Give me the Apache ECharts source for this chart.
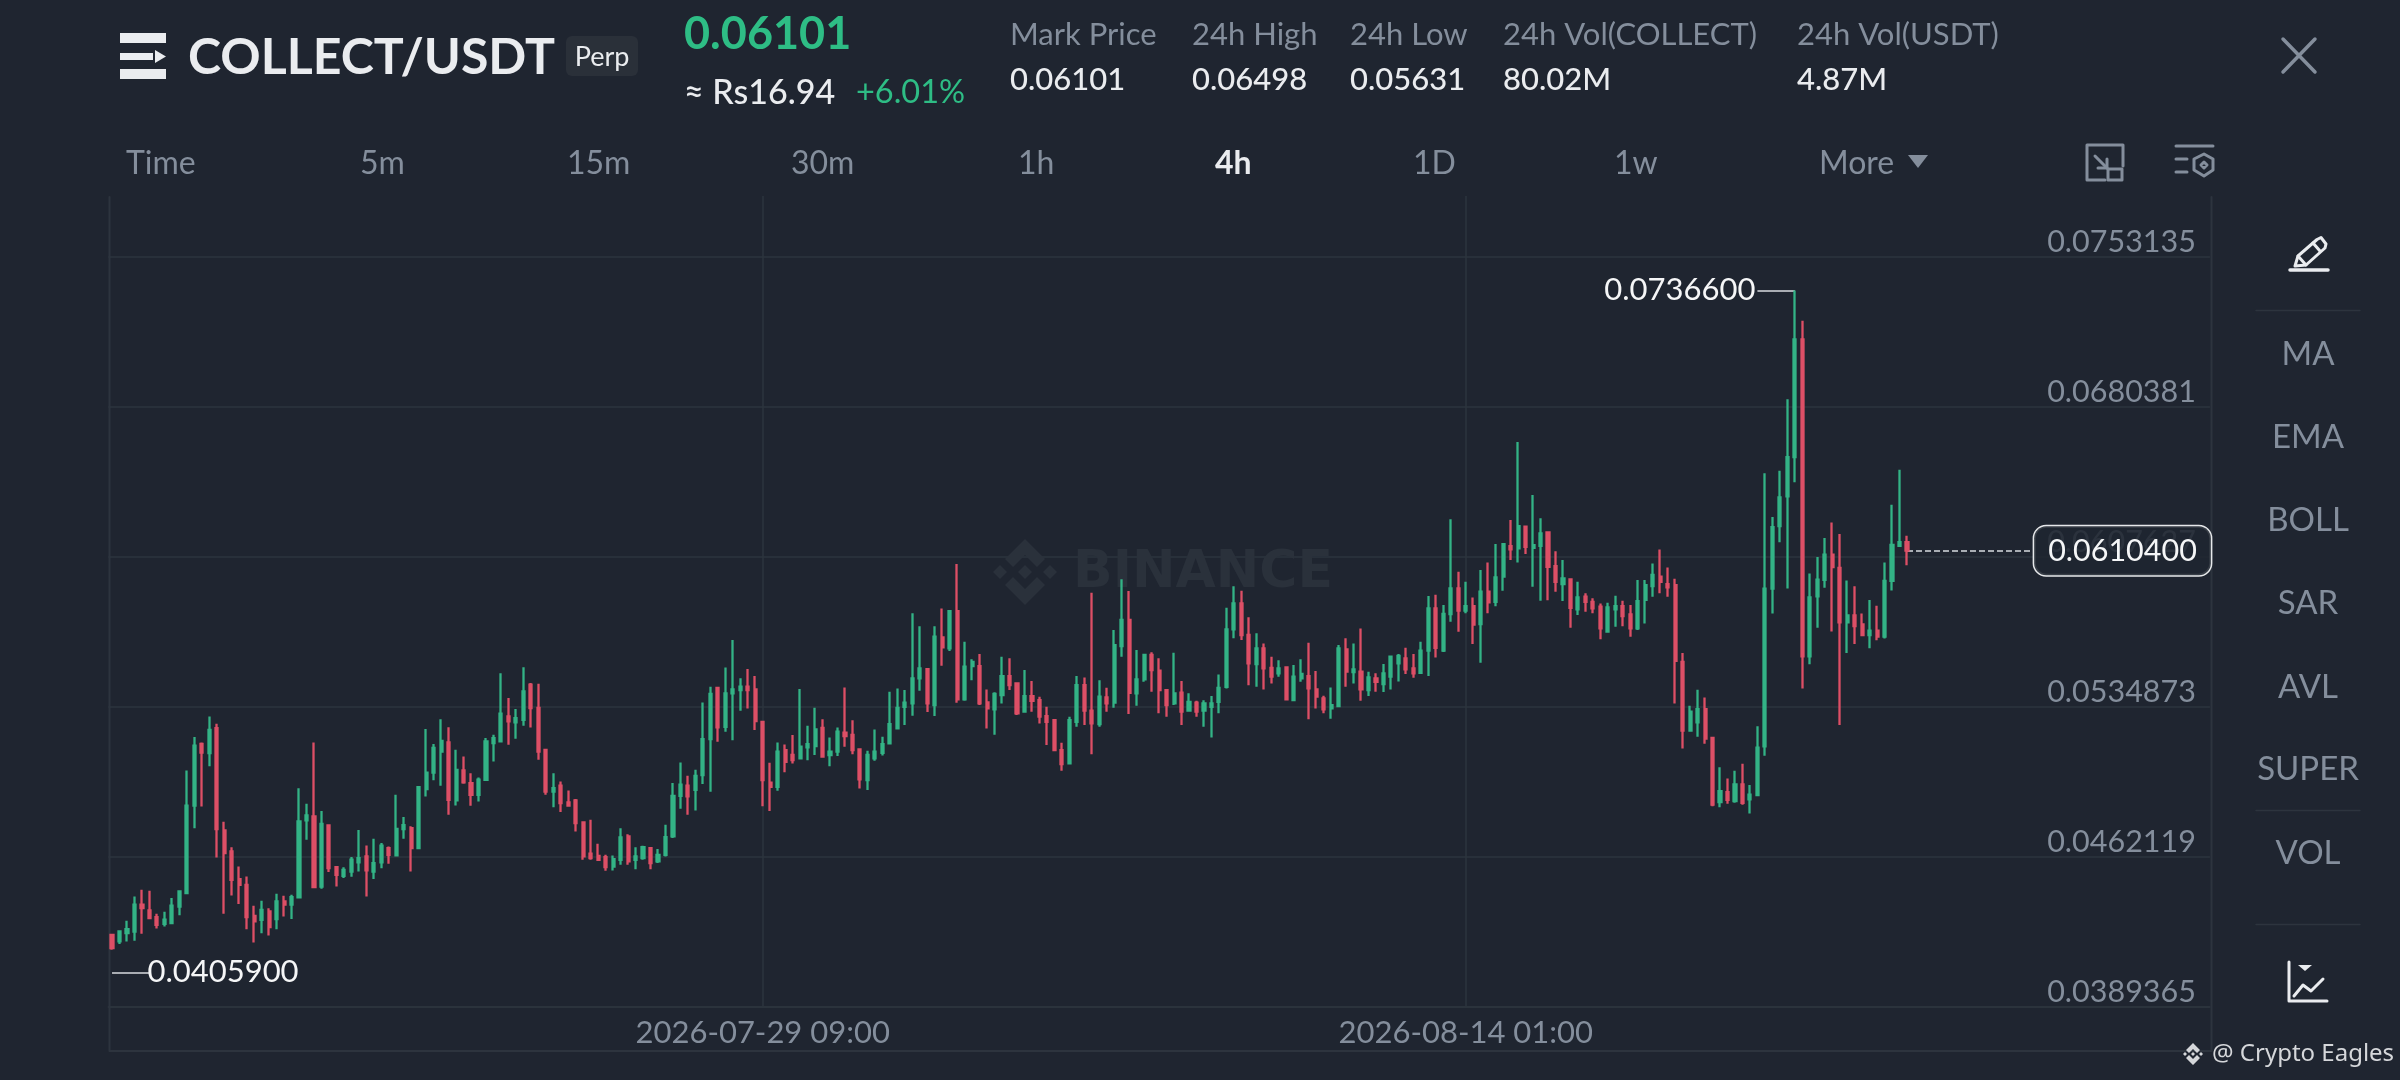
<!DOCTYPE html>
<html><head><meta charset="utf-8">
<style>html,body{margin:0;padding:0;background:#1f2530}#c{width:2400px;height:1080px}</style>
<script src="https://cdn.jsdelivr.net/npm/echarts@6/dist/echarts.min.js"></script>
</head><body><div id="c"></div>
<script>
// Prices below are in thousandths of a USDT (4h candles).
const opens=[42.41,42.09,42.49,42.57,43.87,43.59,43.27,42.94,42.98,43.78,
44.43,48.67,51.67,51.22,52.43,47.47,46.45,45.11,44.83,43.33,
43.14,43.54,43.17,44.03,43.87,44.22,47.96,48.15,44.75,47.71,
45.69,45.27,45.48,45.92,46.21,45.48,45.92,46.61,46.26,47.54,
47.58,46.61,49.48,50.28,51.30,51.74,48.93,50.38,49.77,49.20,
49.93,51.71,51.79,53.00,52.71,52.84,54.54,53.41,51.38,49.36,
49.64,48.83,48.93,47.86,46.34,46.24,46.18,45.72,46.05,47.18,
46.05,46.13,46.61,45.97,46.29,47.18,49.15,49.64,49.44,50.16,
51.90,54.39,52.50,54.12,54.28,54.44,54.31,52.74,49.79,49.59,
51.37,51.13,50.97,51.50,51.56,52.45,51.13,51.29,52.21,52.10,
51.40,49.91,50.97,51.24,51.69,52.42,53.47,53.63,54.85,55.30,
53.55,56.83,56.30,58.11,53.83,55.44,55.44,53.68,53.34,54.04,
54.96,54.60,53.23,53.99,53.79,53.02,52.82,51.37,50.72,52.74,
54.52,53.28,52.63,53.92,53.67,56.41,57.68,54.12,54.80,55.98,
55.22,54.28,53.63,54.15,53.28,53.67,53.28,53.47,53.71,54.44,
57.22,58.48,56.95,55.54,56.30,55.36,55.09,55.38,53.79,54.85,
54.96,54.31,53.87,53.39,53.50,56.25,55.15,55.17,54.28,54.85,
54.57,54.93,55.57,55.82,55.33,55.12,56.19,58.24,56.19,57.97,
59.21,58.13,58.35,57.48,59.05,58.56,59.78,61.26,61.15,62.20,
61.18,61.27,61.93,60.29,59.42,59.65,58.19,58.81,58.56,58.32,
57.11,58.19,58.35,57.95,57.27,58.65,59.32,59.78,59.42,59.37,
55.65,52.31,52.71,53.35,51.96,48.84,49.33,48.90,49.71,48.98,
49.19,51.55,59.20,62.23,63.67,65.58,71.29,55.91,58.82,59.63,
60.85,60.21,57.56,57.90,57.47,56.95,57.16,56.87,59.58,61.28,61.45];
const closes=[41.76,42.57,42.68,43.87,43.70,43.22,42.89,43.14,43.82,44.51,
48.67,51.58,51.25,52.35,47.54,46.37,45.08,44.83,43.27,43.06,
43.62,42.78,44.03,43.87,44.24,47.91,48.20,44.72,47.79,45.64,
45.32,45.56,46.05,46.13,45.53,45.89,46.73,46.29,47.54,47.73,
46.61,49.57,50.28,51.47,51.82,48.96,50.41,49.80,49.20,49.93,
51.79,51.95,53.13,52.76,52.92,54.21,53.41,51.30,49.36,49.52,
48.80,48.67,47.83,46.21,46.13,46.05,45.69,46.08,47.13,45.97,
46.21,46.66,45.89,46.29,47.15,49.15,49.69,49.12,50.12,51.90,
54.09,52.47,54.12,54.31,54.44,54.28,52.78,49.91,49.59,51.29,
50.80,50.88,51.53,51.66,52.37,51.05,51.29,52.26,52.05,51.37,
49.95,51.13,51.29,51.66,52.63,53.42,53.67,54.85,55.33,53.63,
56.87,56.35,58.11,53.83,55.41,55.65,53.63,53.39,54.09,54.96,
54.52,53.15,53.99,53.76,52.99,52.74,51.37,50.69,52.82,54.52,
53.28,52.66,53.96,53.63,56.46,57.68,54.15,54.80,55.98,55.25,
54.28,53.55,54.12,53.23,53.71,53.23,53.63,53.63,54.39,57.22,
58.48,56.95,55.57,56.30,55.33,54.93,55.33,53.83,54.93,55.06,
54.36,53.96,53.34,53.55,56.30,55.17,55.28,54.31,54.89,54.68,
55.09,55.90,55.94,55.28,55.09,56.19,58.24,56.33,57.97,59.21,
58.13,58.35,57.46,59.05,58.53,59.74,61.36,61.10,62.23,61.23,
61.31,61.88,60.26,59.53,59.70,58.27,58.77,58.56,58.24,57.27,
58.29,58.35,57.87,57.27,58.59,59.37,59.86,59.53,59.26,55.70,
52.31,53.23,53.35,51.93,48.72,49.38,48.95,49.71,48.81,49.21,
51.49,59.20,62.18,63.62,65.58,71.29,55.91,58.77,59.63,60.85,
60.24,57.56,57.90,57.38,56.95,57.16,56.87,59.58,61.32,61.45,61.04];
const lows=[41.68,41.96,42.09,42.12,42.46,43.17,42.72,42.81,42.93,43.36,
44.40,47.58,48.63,50.58,46.16,43.43,44.32,43.90,42.68,42.04,
42.49,42.38,42.68,43.30,43.17,44.17,47.02,44.67,44.64,45.45,
44.75,45.16,45.22,45.48,44.27,45.11,45.64,45.85,46.21,47.07,
45.48,46.57,49.12,49.90,49.64,48.23,48.68,49.73,48.67,48.88,
49.90,50.82,51.74,51.63,51.92,52.55,52.47,50.90,49.20,48.59,
48.36,48.63,47.42,46.05,46.05,46.02,45.51,45.53,45.81,45.81,
45.59,46.05,45.59,45.89,46.21,47.10,48.52,48.23,48.44,49.72,
49.35,51.77,52.26,51.85,53.28,53.39,52.34,48.65,48.41,49.40,
50.29,50.72,50.97,50.88,51.13,51.01,50.59,51.08,51.53,51.17,
49.51,49.43,50.85,51.11,51.66,52.37,52.58,53.03,54.25,53.21,
53.02,55.46,56.17,53.67,53.76,54.76,53.55,52.42,52.11,53.63,
54.28,53.07,53.18,53.23,52.66,51.61,51.34,50.37,50.67,52.50,
52.58,51.17,52.50,53.23,53.42,55.90,53.12,53.52,54.68,54.20,
53.15,52.99,53.55,52.58,53.23,52.99,52.50,51.98,53.15,54.36,
56.79,56.71,54.51,54.44,54.31,54.60,54.93,53.79,53.76,54.68,
52.86,53.39,53.15,52.89,53.47,54.44,54.60,53.76,53.99,54.20,
54.18,54.31,54.70,55.06,54.88,55.09,54.96,55.86,56.12,57.59,
57.11,58.00,56.51,55.61,58.00,58.35,59.10,60.59,60.47,60.88,
59.29,58.61,58.63,59.05,58.60,57.30,57.92,58.08,58.00,56.75,
57.06,57.35,57.38,56.87,57.19,57.51,58.81,58.97,58.81,53.63,
51.44,52.27,52.01,51.67,48.64,48.60,48.77,48.81,48.72,48.29,
49.16,51.09,57.99,61.45,59.20,64.36,54.35,55.53,57.30,59.24,
57.12,52.58,56.08,56.52,56.92,56.31,56.69,56.78,59.11,61.28,60.33];
const highs=[42.44,42.62,43.09,44.27,44.59,44.54,43.43,43.53,44.20,44.56,
50.38,52.00,51.74,53.00,52.65,47.89,46.66,45.72,45.24,43.82,
44.06,43.70,44.40,44.30,44.35,49.52,48.76,51.74,48.42,47.71,
45.72,45.69,46.18,47.49,46.74,47.07,46.86,46.69,49.20,48.12,
47.67,49.61,52.39,51.66,52.87,52.48,51.38,51.06,50.25,50.04,
51.95,52.11,55.10,53.89,53.36,55.39,54.62,54.59,51.42,50.25,
49.85,49.41,48.99,47.87,47.99,46.82,46.29,46.26,47.58,47.29,
46.66,46.73,46.66,46.57,47.75,49.77,50.77,50.12,50.41,53.68,
54.44,54.44,55.38,56.71,54.85,55.30,54.96,52.74,50.76,51.74,
51.64,52.10,54.33,52.55,53.42,52.87,51.98,52.47,54.41,52.82,
51.40,51.34,52.37,52.02,54.20,54.36,54.28,58.00,57.38,55.33,
57.38,58.24,58.11,60.39,56.62,55.77,56.03,54.31,54.17,55.90,
55.82,54.65,55.25,54.72,53.96,53.47,52.86,51.72,52.99,54.96,
54.89,59.00,54.76,54.39,57.19,59.65,59.08,56.22,56.03,56.11,
55.82,54.31,56.09,54.72,54.12,53.76,53.79,53.99,55.04,58.27,
59.32,59.10,57.81,57.03,56.54,55.90,55.73,55.41,55.49,55.78,
56.57,55.20,54.00,54.41,56.46,56.79,56.54,57.27,55.17,55.09,
55.54,55.94,56.03,56.33,56.03,56.62,58.84,58.90,58.40,62.57,
60.02,59.53,58.77,60.10,60.47,61.36,61.39,62.53,66.31,62.23,
63.74,62.61,61.96,61.01,60.59,59.66,59.53,58.97,58.73,58.48,
58.52,58.85,58.61,58.40,59.62,59.62,60.42,61.10,60.23,59.68,
56.08,53.52,54.30,53.92,51.98,50.54,49.99,50.37,50.71,49.68,
52.53,64.80,62.67,64.92,68.38,73.66,72.19,59.93,60.73,61.66,
62.41,61.85,59.60,59.32,57.99,58.65,58.37,60.47,63.27,64.97,61.77];

const yTicks=[0.0389365,0.0462119,0.0534873,0.0607627,0.0680381,0.0753135];
const timeLabels={87:'2026-07-29 09:00',181:'2026-08-14 01:00'};
const lastPrice=0.06104, highMark=0.07366, lowMark=0.04059;
const candleCount=opens.length, slotCount=281;
const categories=[];
for(let i=0;i<slotCount;i++) categories.push(timeLabels[i]||('#'+i));
const candles=opens.map((o,i)=>[o/1000,closes[i]/1000,lows[i]/1000,highs[i]/1000]);

const FONT='Lato';
const BG='#1f2530', GREY='#848e9c', WHITE='#eaecef', GREEN='#2ebd85', LINE='#2d343e';
const topRowLabels=['Mark Price','24h High','24h Low','24h Vol(COLLECT)','24h Vol(USDT)'];
const topRowValues=['0.06101','0.06498','0.05631','80.02M','4.87M'];
const intervals=['Time','5m','15m','30m','1h','4h','1D','1w','More'];
const indicators=['MA','EMA','BOLL','SAR','AVL','SUPER','VOL'];

const g=[];
function T(text,x,y,size,fill,weight,align,family){
  g.push({type:'text',z:20,silent:true,style:{text,x,y:y+1.5,fill,textAlign:align||'left',textVerticalAlign:'middle',
    font:`${weight||400} ${size}px "${family||FONT}"`}});
}
// Decorative icons and frame: a tiny M/L/H/V/Z reader turned into polygons and polylines.
function P(d,stroke,w,fill,z,tx,ty){
  const subs=d.match(/M[^M]*/g);
  subs.forEach(sub=>{
    const pts=[];let cx=0,cy=0,closed=false;
    (sub.match(/[MLHVZ][^MLHVZ]*/g)||[]).forEach(tok=>{
      const c=tok[0],n=tok.slice(1).trim().split(/[ ,]+/).map(Number);
      if(c==='M'||c==='L'){cx=n[0];cy=n[1];pts.push([cx,cy]);}
      else if(c==='H'){cx=n[0];pts.push([cx,cy]);}
      else if(c==='V'){cy=n[0];pts.push([cx,cy]);}
      else closed=true;
    });
    g.push({type:(closed||fill)?'polygon':'polyline',z:z||20,silent:true,x:tx||0,y:ty||0,shape:{points:pts},
      style:{stroke:stroke||'none',lineWidth:w||0,fill:fill||'none',lineCap:'round',lineJoin:'round'}});
  });
}
// watermark
P('M0,-33L20,-13L12,-5L0,-17L-12,-5L-20,-13ZM0,33L20,13L12,5L0,17L-12,5L-20,13ZM0,-7L7,0L0,7L-7,0ZM-25,-7L-18,0L-25,7L-32,0ZM25,-7L32,0L25,7L18,0Z',null,0,'#2a313b',1,1025,572);
g.push({type:'text',z:1,silent:true,style:{text:'BINANCE',x:1073,y:573,fill:'#2a313b',textVerticalAlign:'middle',font:'700 52px "DejaVu Sans"'}});
// frame
P('M109.5,197L109.5,1051L2211.5,1051L2211.5,197',LINE,2,null,1);
// header
P('M120,33H166V43H120ZM120,53H153V60H120ZM155,50L166,56.5L155,63ZM120,69H166V79H120Z',null,0,WHITE);
T('COLLECT/USDT',188,56.5,50,WHITE,700);
g.push({type:'rect',z:19,silent:true,shape:{x:566,y:36,width:72,height:40,r:6},style:{fill:'#2a3039'}});
T('Perp',602,55.5,27,WHITE,400,'center');
T('0.06101',684,32.5,45,GREEN,700);
T('≈ Rs16.94',684,91.5,34,WHITE,500);
T('+6.01%',856,91.5,32.5,GREEN,400);
const topX=[1010,1192,1350,1503,1797];
topRowLabels.forEach((s,i)=>{T(s,topX[i],33.5,31,GREY);T(topRowValues[i],topX[i],78.5,31,WHITE,500);});
const intX=[126,360,567,791,1018,1215,1413,1614,1819];
intervals.forEach((s,i)=>T(s,intX[i],162,32,s==='4h'?WHITE:GREY,s==='4h'?700:400));
P('M1908,155H1928L1918,168Z',null,0,GREY);
// top right icons
P('M2283,39L2315,72M2315,39L2283,72',GREY,3.5);
P('M2123,166V145H2087V180H2105M2095,156L2107,168M2107,159V168H2098',GREY,3);
P('M2108,169H2122V180H2108Z',GREY,3);
P('M2176,146H2213M2176,159H2187M2176,172H2187M2204,154L2213,159V170L2204,176L2194,170V159ZM2204,162L2207,165L2204,168L2201,165Z',GREY,3);
// side panel
P('M2256,310.5H2360M2256,810.5H2360M2256,924.5H2360',LINE,1.5);
P('M2290,270H2328',WHITE,3.5);
P('M2295,266L2298,256L2317,239.5L2321,237.5L2326,244L2325,248L2306,265ZM2298,256L2306,265M2313,243L2320,251',WHITE,3);
const sideY=[353,436,519,602,686,768,852];
indicators.forEach((s,i)=>T(s,2308,sideY[i],33,GREY,400,'center'));
P('M2289,962V1001H2327M2294,996L2303,985L2311,991L2323,979',WHITE,3);
P('M2298,965H2312L2305,971Z',null,0,WHITE);
// credit
P('M0,-11L7,-4L4,-1L0,-5L-4,-1L-7,-4ZM0,11L7,4L4,1L0,5L-4,1L-7,4ZM0,-2L2,0L0,2L-2,0ZM-8,-2L-6,0L-8,2L-10,0ZM8,-2L10,0L8,2L6,0Z',null,0,'#d5d7da',20,2193,1054);
T('@ Crypto Eagles',2212,1052.5,24,'#d5d7da',400,'left','Noto Sans');

const markText=(v)=>v.toFixed(7);
const option={
  backgroundColor:BG,animation:false,
  grid:{left:108.3,top:196,width:2101.6,height:810.4,containLabel:false},
  xAxis:{type:'category',data:categories,boundaryGap:true,
    axisLine:{show:true,lineStyle:{color:LINE,width:1.5}},axisTick:{show:false},
    splitLine:{show:true,alignWithLabel:true,interval:(i)=>!!timeLabels[i],lineStyle:{color:LINE,width:1.5}},
    axisLabel:{show:true,interval:(i)=>!!timeLabels[i],color:GREY,fontFamily:FONT,fontSize:31,margin:11,hideOverlap:false}},
  yAxis:{type:'value',position:'right',min:0.0389365,max:0.0782434,scale:true,
    axisLine:{show:false},axisTick:{show:false,customValues:yTicks},
    splitLine:{show:true,customValues:yTicks,lineStyle:{color:LINE,width:1.5}},
    axisLabel:{show:true,inside:true,customValues:yTicks,margin:14,color:GREY,fontFamily:FONT,fontSize:30.5,
      verticalAlign:'bottom',lineHeight:28,formatter:(v)=>v.toFixed(7)}},
  graphic:{elements:g},
  series:[{type:'candlestick',data:candles,barWidth:2.6,z:5,
    itemStyle:{color:'#33b386',color0:'#dd4f66',borderColor:'#33b386',borderColor0:'#dd4f66',borderWidth:2.3},
    emphasis:{disabled:true},
    markLine:{silent:true,symbol:['none','none'],animation:false,
      lineStyle:{color:'#d8dbdf',width:1.5,type:'solid'},
      label:{color:'#f5f6f7',fontFamily:FONT,fontSize:31,distance:2},
      data:[
        [{coord:[225,highMark],label:{position:'end',formatter:markText(highMark)}},{coord:[220,highMark]}],
        [{coord:[0,lowMark],label:{position:'end',distance:-2,formatter:markText(lowMark)}},{coord:[5,lowMark]}],
        [{coord:[240,lastPrice],lineStyle:{type:'dashed',width:1.5},
          label:{position:'end',formatter:markText(lastPrice),distance:0,fontSize:30.5,backgroundColor:'rgba(31,37,48,0.88)',borderColor:'#e6e8ea',borderWidth:1.5,borderRadius:12,padding:[9,14,9,14]}},
         {coord:[257,lastPrice]}]
      ]}}]
};
const chart=echarts.init(document.getElementById('c'),null,{renderer:'canvas',width:2400,height:1080});
chart.setOption(option);
</script></body></html>
